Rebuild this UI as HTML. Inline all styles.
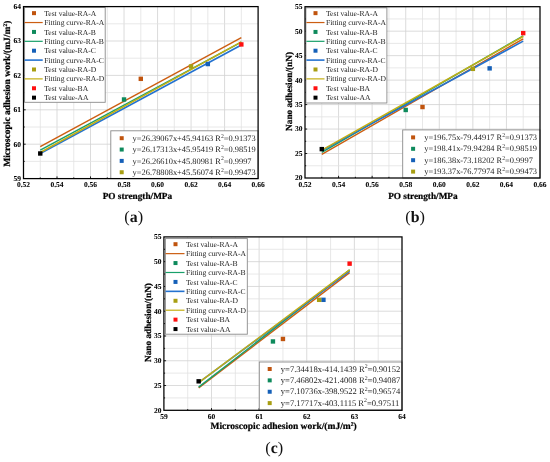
<!DOCTYPE html>
<html><head><meta charset="utf-8"><style>
html,body{margin:0;padding:0;background:#fff;}
svg{display:block;font-family:'Liberation Serif', 'Times New Roman', serif;text-rendering:geometricPrecision;filter:blur(0.35px);}
</style></head><body>
<svg width="550" height="462" viewBox="0 0 550 462">
<rect width="550" height="462" fill="#fff"/>
<line x1="40.26" y1="6.6" x2="40.26" y2="178.6" stroke="#e2e2e2" stroke-width="0.8"/>
<line x1="57.01" y1="6.6" x2="57.01" y2="178.6" stroke="#d2d2d2" stroke-width="0.8"/>
<line x1="73.77" y1="6.6" x2="73.77" y2="178.6" stroke="#e2e2e2" stroke-width="0.8"/>
<line x1="90.53" y1="6.6" x2="90.53" y2="178.6" stroke="#d2d2d2" stroke-width="0.8"/>
<line x1="107.29" y1="6.6" x2="107.29" y2="178.6" stroke="#e2e2e2" stroke-width="0.8"/>
<line x1="124.04" y1="6.6" x2="124.04" y2="178.6" stroke="#d2d2d2" stroke-width="0.8"/>
<line x1="140.8" y1="6.6" x2="140.8" y2="178.6" stroke="#e2e2e2" stroke-width="0.8"/>
<line x1="157.56" y1="6.6" x2="157.56" y2="178.6" stroke="#d2d2d2" stroke-width="0.8"/>
<line x1="174.31" y1="6.6" x2="174.31" y2="178.6" stroke="#e2e2e2" stroke-width="0.8"/>
<line x1="191.07" y1="6.6" x2="191.07" y2="178.6" stroke="#d2d2d2" stroke-width="0.8"/>
<line x1="207.83" y1="6.6" x2="207.83" y2="178.6" stroke="#e2e2e2" stroke-width="0.8"/>
<line x1="224.59" y1="6.6" x2="224.59" y2="178.6" stroke="#d2d2d2" stroke-width="0.8"/>
<line x1="241.34" y1="6.6" x2="241.34" y2="178.6" stroke="#e2e2e2" stroke-width="0.8"/>
<line x1="23.5" y1="161.4" x2="258.1" y2="161.4" stroke="#e2e2e2" stroke-width="0.8"/>
<line x1="23.5" y1="144.2" x2="258.1" y2="144.2" stroke="#d2d2d2" stroke-width="0.8"/>
<line x1="23.5" y1="127" x2="258.1" y2="127" stroke="#e2e2e2" stroke-width="0.8"/>
<line x1="23.5" y1="109.8" x2="258.1" y2="109.8" stroke="#d2d2d2" stroke-width="0.8"/>
<line x1="23.5" y1="92.6" x2="258.1" y2="92.6" stroke="#e2e2e2" stroke-width="0.8"/>
<line x1="23.5" y1="75.4" x2="258.1" y2="75.4" stroke="#d2d2d2" stroke-width="0.8"/>
<line x1="23.5" y1="58.2" x2="258.1" y2="58.2" stroke="#e2e2e2" stroke-width="0.8"/>
<line x1="23.5" y1="41" x2="258.1" y2="41" stroke="#d2d2d2" stroke-width="0.8"/>
<line x1="23.5" y1="23.8" x2="258.1" y2="23.8" stroke="#e2e2e2" stroke-width="0.8"/>
<line x1="40.26" y1="146.65" x2="241.34" y2="37.71" stroke="#CC5E12" stroke-width="1.45"/>
<line x1="40.26" y1="150.19" x2="241.34" y2="42.14" stroke="#18A06A" stroke-width="1.45"/>
<line x1="40.26" y1="153.46" x2="241.34" y2="45.03" stroke="#2472D0" stroke-width="1.6"/>
<line x1="40.26" y1="152.51" x2="241.34" y2="41.93" stroke="#C4AE12" stroke-width="1.45"/>
<rect x="138.6" y="76.64" width="4.4" height="4.4" fill="#C0540E"/>
<rect x="121.84" y="97.28" width="4.4" height="4.4" fill="#0E8A5C"/>
<rect x="205.63" y="61.85" width="4.4" height="4.4" fill="#1560B8"/>
<rect x="188.87" y="64.26" width="4.4" height="4.4" fill="#A89E12"/>
<rect x="239.14" y="42.24" width="4.4" height="4.4" fill="#FF1010"/>
<rect x="38.06" y="151.29" width="4.4" height="4.4" fill="#000000"/>
<line x1="40.26" y1="178.6" x2="40.26" y2="177.4" stroke="#1a1a1a" stroke-width="1"/>
<line x1="57.01" y1="178.6" x2="57.01" y2="176.4" stroke="#1a1a1a" stroke-width="1"/>
<line x1="73.77" y1="178.6" x2="73.77" y2="177.4" stroke="#1a1a1a" stroke-width="1"/>
<line x1="90.53" y1="178.6" x2="90.53" y2="176.4" stroke="#1a1a1a" stroke-width="1"/>
<line x1="107.29" y1="178.6" x2="107.29" y2="177.4" stroke="#1a1a1a" stroke-width="1"/>
<line x1="124.04" y1="178.6" x2="124.04" y2="176.4" stroke="#1a1a1a" stroke-width="1"/>
<line x1="140.8" y1="178.6" x2="140.8" y2="177.4" stroke="#1a1a1a" stroke-width="1"/>
<line x1="157.56" y1="178.6" x2="157.56" y2="176.4" stroke="#1a1a1a" stroke-width="1"/>
<line x1="174.31" y1="178.6" x2="174.31" y2="177.4" stroke="#1a1a1a" stroke-width="1"/>
<line x1="191.07" y1="178.6" x2="191.07" y2="176.4" stroke="#1a1a1a" stroke-width="1"/>
<line x1="207.83" y1="178.6" x2="207.83" y2="177.4" stroke="#1a1a1a" stroke-width="1"/>
<line x1="224.59" y1="178.6" x2="224.59" y2="176.4" stroke="#1a1a1a" stroke-width="1"/>
<line x1="241.34" y1="178.6" x2="241.34" y2="177.4" stroke="#1a1a1a" stroke-width="1"/>
<line x1="23.5" y1="161.4" x2="24.7" y2="161.4" stroke="#1a1a1a" stroke-width="1"/>
<line x1="23.5" y1="144.2" x2="25.7" y2="144.2" stroke="#1a1a1a" stroke-width="1"/>
<line x1="23.5" y1="127" x2="24.7" y2="127" stroke="#1a1a1a" stroke-width="1"/>
<line x1="23.5" y1="109.8" x2="25.7" y2="109.8" stroke="#1a1a1a" stroke-width="1"/>
<line x1="23.5" y1="92.6" x2="24.7" y2="92.6" stroke="#1a1a1a" stroke-width="1"/>
<line x1="23.5" y1="75.4" x2="25.7" y2="75.4" stroke="#1a1a1a" stroke-width="1"/>
<line x1="23.5" y1="58.2" x2="24.7" y2="58.2" stroke="#1a1a1a" stroke-width="1"/>
<line x1="23.5" y1="41" x2="25.7" y2="41" stroke="#1a1a1a" stroke-width="1"/>
<line x1="23.5" y1="23.8" x2="24.7" y2="23.8" stroke="#1a1a1a" stroke-width="1"/>
<rect x="24.6" y="7.5" width="80.6" height="94.8" fill="#fff" stroke="#8a8a8a" stroke-width="0.9"/>
<rect x="32" y="11.15" width="4" height="4" fill="#C0540E"/>
<text x="44.2" y="15.75" font-size="7.6" fill="#222">Test value-RA-A</text>
<line x1="24.5" y1="22.54" x2="42.7" y2="22.54" stroke="#CC5E12" stroke-width="1.2"/>
<text x="44.2" y="25.14" font-size="7.6" fill="#222">Fitting curve-RA-A</text>
<rect x="32" y="29.93" width="4" height="4" fill="#0E8A5C"/>
<text x="44.2" y="34.53" font-size="7.6" fill="#222">Test value-RA-B</text>
<line x1="24.5" y1="41.32" x2="42.7" y2="41.32" stroke="#18A06A" stroke-width="1.2"/>
<text x="44.2" y="43.92" font-size="7.6" fill="#222">Fitting curve-RA-B</text>
<rect x="32" y="48.71" width="4" height="4" fill="#1560B8"/>
<text x="44.2" y="53.31" font-size="7.6" fill="#222">Test value-RA-C</text>
<line x1="24.5" y1="60.1" x2="42.7" y2="60.1" stroke="#2472D0" stroke-width="1.6"/>
<text x="44.2" y="62.7" font-size="7.6" fill="#222">Fitting curve-RA-C</text>
<rect x="32" y="67.49" width="4" height="4" fill="#A89E12"/>
<text x="44.2" y="72.09" font-size="7.6" fill="#222">Test value-RA-D</text>
<line x1="24.5" y1="78.88" x2="42.7" y2="78.88" stroke="#C4AE12" stroke-width="1.2"/>
<text x="44.2" y="81.48" font-size="7.6" fill="#222">Fitting curve-RA-D</text>
<rect x="32" y="86.27" width="4" height="4" fill="#FF1010"/>
<text x="44.2" y="90.87" font-size="7.6" fill="#222">Test value-BA</text>
<rect x="32" y="95.66" width="4" height="4" fill="#000000"/>
<text x="44.2" y="100.26" font-size="7.6" fill="#222">Test value-AA</text>
<rect x="110.8" y="130.8" width="147.3" height="47.8" fill="#fff" stroke="#8a8a8a" stroke-width="0.9"/>
<rect x="119.7" y="136.2" width="4" height="4" fill="#C0540E"/>
<text x="132.6" y="140.8" font-size="8.38" fill="#222">y=26.39067x+45.94163 R<tspan font-size="5.70" dy="-3.3">2</tspan><tspan dy="3.3">=0.91373</tspan></text>
<rect x="119.7" y="147.55" width="4" height="4" fill="#0E8A5C"/>
<text x="132.6" y="152.15" font-size="8.38" fill="#222">y=26.17313x+45.95419 R<tspan font-size="5.70" dy="-3.3">2</tspan><tspan dy="3.3">=0.98519</tspan></text>
<rect x="119.7" y="158.9" width="4" height="4" fill="#1560B8"/>
<text x="132.6" y="163.5" font-size="8.38" fill="#222">y=26.26610x+45.80981 R<tspan font-size="5.70" dy="-3.3">2</tspan><tspan dy="3.3">=0.9997</tspan></text>
<rect x="119.7" y="170.25" width="4" height="4" fill="#A89E12"/>
<text x="132.6" y="174.85" font-size="8.38" fill="#222">y=26.78808x+45.56074 R<tspan font-size="5.70" dy="-3.3">2</tspan><tspan dy="3.3">=0.99473</tspan></text>
<rect x="23.5" y="6.6" width="234.6" height="172" fill="none" stroke="#000" stroke-width="1.25"/>
<text x="23.5" y="187.2" font-size="7.5" font-weight="bold" text-anchor="middle" fill="#000" stroke="#000" stroke-width="0.06">0.52</text>
<text x="57.01" y="187.2" font-size="7.5" font-weight="bold" text-anchor="middle" fill="#000" stroke="#000" stroke-width="0.06">0.54</text>
<text x="90.53" y="187.2" font-size="7.5" font-weight="bold" text-anchor="middle" fill="#000" stroke="#000" stroke-width="0.06">0.56</text>
<text x="124.04" y="187.2" font-size="7.5" font-weight="bold" text-anchor="middle" fill="#000" stroke="#000" stroke-width="0.06">0.58</text>
<text x="157.56" y="187.2" font-size="7.5" font-weight="bold" text-anchor="middle" fill="#000" stroke="#000" stroke-width="0.06">0.60</text>
<text x="191.07" y="187.2" font-size="7.5" font-weight="bold" text-anchor="middle" fill="#000" stroke="#000" stroke-width="0.06">0.62</text>
<text x="224.59" y="187.2" font-size="7.5" font-weight="bold" text-anchor="middle" fill="#000" stroke="#000" stroke-width="0.06">0.64</text>
<text x="258.1" y="187.2" font-size="7.5" font-weight="bold" text-anchor="middle" fill="#000" stroke="#000" stroke-width="0.06">0.66</text>
<text x="21" y="181" font-size="7.5" font-weight="bold" text-anchor="end" fill="#000" stroke="#000" stroke-width="0.06">59</text>
<text x="21" y="146.6" font-size="7.5" font-weight="bold" text-anchor="end" fill="#000" stroke="#000" stroke-width="0.06">60</text>
<text x="21" y="112.2" font-size="7.5" font-weight="bold" text-anchor="end" fill="#000" stroke="#000" stroke-width="0.06">61</text>
<text x="21" y="77.8" font-size="7.5" font-weight="bold" text-anchor="end" fill="#000" stroke="#000" stroke-width="0.06">62</text>
<text x="21" y="43.4" font-size="7.5" font-weight="bold" text-anchor="end" fill="#000" stroke="#000" stroke-width="0.06">63</text>
<text x="21" y="9" font-size="7.5" font-weight="bold" text-anchor="end" fill="#000" stroke="#000" stroke-width="0.06">64</text>
<text x="102.7" y="199.2" font-size="9.25" font-weight="bold" fill="#000" stroke="#000" stroke-width="0.22">PO strength/MPa</text>
<text transform="translate(9.7,166.8) rotate(-90)" font-size="9.5" font-weight="bold" fill="#000" stroke="#000" stroke-width="0.22">Microscopic adhesion work/(mJ/m<tspan font-size="5.5" dy="-3.2">2</tspan><tspan dy="3.2">)</tspan></text>
<text x="124.3" y="222.4" font-size="16.3" fill="#111">(<tspan font-weight="bold" font-size="15.8">a</tspan>)</text>
<line x1="321.79" y1="6.7" x2="321.79" y2="178" stroke="#e2e2e2" stroke-width="0.8"/>
<line x1="338.57" y1="6.7" x2="338.57" y2="178" stroke="#d2d2d2" stroke-width="0.8"/>
<line x1="355.36" y1="6.7" x2="355.36" y2="178" stroke="#e2e2e2" stroke-width="0.8"/>
<line x1="372.14" y1="6.7" x2="372.14" y2="178" stroke="#d2d2d2" stroke-width="0.8"/>
<line x1="388.93" y1="6.7" x2="388.93" y2="178" stroke="#e2e2e2" stroke-width="0.8"/>
<line x1="405.71" y1="6.7" x2="405.71" y2="178" stroke="#d2d2d2" stroke-width="0.8"/>
<line x1="422.5" y1="6.7" x2="422.5" y2="178" stroke="#e2e2e2" stroke-width="0.8"/>
<line x1="439.29" y1="6.7" x2="439.29" y2="178" stroke="#d2d2d2" stroke-width="0.8"/>
<line x1="456.07" y1="6.7" x2="456.07" y2="178" stroke="#e2e2e2" stroke-width="0.8"/>
<line x1="472.86" y1="6.7" x2="472.86" y2="178" stroke="#d2d2d2" stroke-width="0.8"/>
<line x1="489.64" y1="6.7" x2="489.64" y2="178" stroke="#e2e2e2" stroke-width="0.8"/>
<line x1="506.43" y1="6.7" x2="506.43" y2="178" stroke="#d2d2d2" stroke-width="0.8"/>
<line x1="523.21" y1="6.7" x2="523.21" y2="178" stroke="#e2e2e2" stroke-width="0.8"/>
<line x1="305" y1="165.76" x2="540" y2="165.76" stroke="#e2e2e2" stroke-width="0.8"/>
<line x1="305" y1="153.53" x2="540" y2="153.53" stroke="#d2d2d2" stroke-width="0.8"/>
<line x1="305" y1="141.29" x2="540" y2="141.29" stroke="#e2e2e2" stroke-width="0.8"/>
<line x1="305" y1="129.06" x2="540" y2="129.06" stroke="#d2d2d2" stroke-width="0.8"/>
<line x1="305" y1="116.82" x2="540" y2="116.82" stroke="#e2e2e2" stroke-width="0.8"/>
<line x1="305" y1="104.59" x2="540" y2="104.59" stroke="#d2d2d2" stroke-width="0.8"/>
<line x1="305" y1="92.35" x2="540" y2="92.35" stroke="#e2e2e2" stroke-width="0.8"/>
<line x1="305" y1="80.11" x2="540" y2="80.11" stroke="#d2d2d2" stroke-width="0.8"/>
<line x1="305" y1="67.88" x2="540" y2="67.88" stroke="#e2e2e2" stroke-width="0.8"/>
<line x1="305" y1="55.64" x2="540" y2="55.64" stroke="#d2d2d2" stroke-width="0.8"/>
<line x1="305" y1="43.41" x2="540" y2="43.41" stroke="#e2e2e2" stroke-width="0.8"/>
<line x1="305" y1="31.17" x2="540" y2="31.17" stroke="#d2d2d2" stroke-width="0.8"/>
<line x1="305" y1="18.94" x2="540" y2="18.94" stroke="#e2e2e2" stroke-width="0.8"/>
<line x1="321.79" y1="154.37" x2="523.21" y2="38.81" stroke="#CC5E12" stroke-width="1.45"/>
<line x1="321.79" y1="152.48" x2="523.21" y2="35.95" stroke="#18A06A" stroke-width="1.45"/>
<line x1="321.79" y1="150.6" x2="523.21" y2="41.13" stroke="#2472D0" stroke-width="1.6"/>
<line x1="321.79" y1="150.07" x2="523.21" y2="36.5" stroke="#C4AE12" stroke-width="1.45"/>
<rect x="420.3" y="104.83" width="4.4" height="4.4" fill="#C0540E"/>
<rect x="403.51" y="107.77" width="4.4" height="4.4" fill="#0E8A5C"/>
<rect x="487.44" y="66.17" width="4.4" height="4.4" fill="#1560B8"/>
<rect x="470.66" y="66.66" width="4.4" height="4.4" fill="#A89E12"/>
<rect x="521.01" y="30.93" width="4.4" height="4.4" fill="#FF1010"/>
<rect x="319.59" y="146.92" width="4.4" height="4.4" fill="#000000"/>
<line x1="321.79" y1="178" x2="321.79" y2="176.8" stroke="#1a1a1a" stroke-width="1"/>
<line x1="338.57" y1="178" x2="338.57" y2="175.8" stroke="#1a1a1a" stroke-width="1"/>
<line x1="355.36" y1="178" x2="355.36" y2="176.8" stroke="#1a1a1a" stroke-width="1"/>
<line x1="372.14" y1="178" x2="372.14" y2="175.8" stroke="#1a1a1a" stroke-width="1"/>
<line x1="388.93" y1="178" x2="388.93" y2="176.8" stroke="#1a1a1a" stroke-width="1"/>
<line x1="405.71" y1="178" x2="405.71" y2="175.8" stroke="#1a1a1a" stroke-width="1"/>
<line x1="422.5" y1="178" x2="422.5" y2="176.8" stroke="#1a1a1a" stroke-width="1"/>
<line x1="439.29" y1="178" x2="439.29" y2="175.8" stroke="#1a1a1a" stroke-width="1"/>
<line x1="456.07" y1="178" x2="456.07" y2="176.8" stroke="#1a1a1a" stroke-width="1"/>
<line x1="472.86" y1="178" x2="472.86" y2="175.8" stroke="#1a1a1a" stroke-width="1"/>
<line x1="489.64" y1="178" x2="489.64" y2="176.8" stroke="#1a1a1a" stroke-width="1"/>
<line x1="506.43" y1="178" x2="506.43" y2="175.8" stroke="#1a1a1a" stroke-width="1"/>
<line x1="523.21" y1="178" x2="523.21" y2="176.8" stroke="#1a1a1a" stroke-width="1"/>
<line x1="305" y1="165.76" x2="306.2" y2="165.76" stroke="#1a1a1a" stroke-width="1"/>
<line x1="305" y1="153.53" x2="307.2" y2="153.53" stroke="#1a1a1a" stroke-width="1"/>
<line x1="305" y1="141.29" x2="306.2" y2="141.29" stroke="#1a1a1a" stroke-width="1"/>
<line x1="305" y1="129.06" x2="307.2" y2="129.06" stroke="#1a1a1a" stroke-width="1"/>
<line x1="305" y1="116.82" x2="306.2" y2="116.82" stroke="#1a1a1a" stroke-width="1"/>
<line x1="305" y1="104.59" x2="307.2" y2="104.59" stroke="#1a1a1a" stroke-width="1"/>
<line x1="305" y1="92.35" x2="306.2" y2="92.35" stroke="#1a1a1a" stroke-width="1"/>
<line x1="305" y1="80.11" x2="307.2" y2="80.11" stroke="#1a1a1a" stroke-width="1"/>
<line x1="305" y1="67.88" x2="306.2" y2="67.88" stroke="#1a1a1a" stroke-width="1"/>
<line x1="305" y1="55.64" x2="307.2" y2="55.64" stroke="#1a1a1a" stroke-width="1"/>
<line x1="305" y1="43.41" x2="306.2" y2="43.41" stroke="#1a1a1a" stroke-width="1"/>
<line x1="305" y1="31.17" x2="307.2" y2="31.17" stroke="#1a1a1a" stroke-width="1"/>
<line x1="305" y1="18.94" x2="306.2" y2="18.94" stroke="#1a1a1a" stroke-width="1"/>
<rect x="305.9" y="7.8" width="81" height="95.2" fill="#fff" stroke="#8a8a8a" stroke-width="0.9"/>
<rect x="313.5" y="11.15" width="4" height="4" fill="#C0540E"/>
<text x="326" y="15.75" font-size="7.6" fill="#222">Test value-RA-A</text>
<line x1="306.4" y1="22.54" x2="324.5" y2="22.54" stroke="#CC5E12" stroke-width="1.2"/>
<text x="326" y="25.14" font-size="7.6" fill="#222">Fitting curve-RA-A</text>
<rect x="313.5" y="29.93" width="4" height="4" fill="#0E8A5C"/>
<text x="326" y="34.53" font-size="7.6" fill="#222">Test value-RA-B</text>
<line x1="306.4" y1="41.32" x2="324.5" y2="41.32" stroke="#18A06A" stroke-width="1.2"/>
<text x="326" y="43.92" font-size="7.6" fill="#222">Fitting curve-RA-B</text>
<rect x="313.5" y="48.71" width="4" height="4" fill="#1560B8"/>
<text x="326" y="53.31" font-size="7.6" fill="#222">Test value-RA-C</text>
<line x1="306.4" y1="60.1" x2="324.5" y2="60.1" stroke="#2472D0" stroke-width="1.6"/>
<text x="326" y="62.7" font-size="7.6" fill="#222">Fitting curve-RA-C</text>
<rect x="313.5" y="67.49" width="4" height="4" fill="#A89E12"/>
<text x="326" y="72.09" font-size="7.6" fill="#222">Test value-RA-D</text>
<line x1="306.4" y1="78.88" x2="324.5" y2="78.88" stroke="#C4AE12" stroke-width="1.2"/>
<text x="326" y="81.48" font-size="7.6" fill="#222">Fitting curve-RA-D</text>
<rect x="313.5" y="86.27" width="4" height="4" fill="#FF1010"/>
<text x="326" y="90.87" font-size="7.6" fill="#222">Test value-BA</text>
<rect x="313.5" y="95.66" width="4" height="4" fill="#000000"/>
<text x="326" y="100.26" font-size="7.6" fill="#222">Test value-AA</text>
<rect x="402.7" y="129.9" width="137.3" height="48.1" fill="#fff" stroke="#8a8a8a" stroke-width="0.9"/>
<rect x="411.1" y="135.4" width="4" height="4" fill="#C0540E"/>
<text x="424.2" y="140" font-size="8.4" fill="#222">y=196.75x-79.44917 R<tspan font-size="5.71" dy="-3.3">2</tspan><tspan dy="3.3">=0.91373</tspan></text>
<rect x="411.1" y="146.8" width="4" height="4" fill="#0E8A5C"/>
<text x="424.2" y="151.4" font-size="8.4" fill="#222">y=198.41x-79.94284 R<tspan font-size="5.71" dy="-3.3">2</tspan><tspan dy="3.3">=0.98519</tspan></text>
<rect x="411.1" y="158.2" width="4" height="4" fill="#1560B8"/>
<text x="424.2" y="162.8" font-size="8.4" fill="#222">y=186.38x-73.18202 R<tspan font-size="5.71" dy="-3.3">2</tspan><tspan dy="3.3">=0.9997</tspan></text>
<rect x="411.1" y="169.6" width="4" height="4" fill="#A89E12"/>
<text x="424.2" y="174.2" font-size="8.4" fill="#222">y=193.37x-76.77974 R<tspan font-size="5.71" dy="-3.3">2</tspan><tspan dy="3.3">=0.99473</tspan></text>
<rect x="305" y="6.7" width="235" height="171.3" fill="none" stroke="#000" stroke-width="1.25"/>
<text x="305" y="186.6" font-size="7.5" font-weight="bold" text-anchor="middle" fill="#000" stroke="#000" stroke-width="0.06">0.52</text>
<text x="338.57" y="186.6" font-size="7.5" font-weight="bold" text-anchor="middle" fill="#000" stroke="#000" stroke-width="0.06">0.54</text>
<text x="372.14" y="186.6" font-size="7.5" font-weight="bold" text-anchor="middle" fill="#000" stroke="#000" stroke-width="0.06">0.56</text>
<text x="405.71" y="186.6" font-size="7.5" font-weight="bold" text-anchor="middle" fill="#000" stroke="#000" stroke-width="0.06">0.58</text>
<text x="439.29" y="186.6" font-size="7.5" font-weight="bold" text-anchor="middle" fill="#000" stroke="#000" stroke-width="0.06">0.60</text>
<text x="472.86" y="186.6" font-size="7.5" font-weight="bold" text-anchor="middle" fill="#000" stroke="#000" stroke-width="0.06">0.62</text>
<text x="506.43" y="186.6" font-size="7.5" font-weight="bold" text-anchor="middle" fill="#000" stroke="#000" stroke-width="0.06">0.64</text>
<text x="540" y="186.6" font-size="7.5" font-weight="bold" text-anchor="middle" fill="#000" stroke="#000" stroke-width="0.06">0.66</text>
<text x="302.5" y="180.4" font-size="7.5" font-weight="bold" text-anchor="end" fill="#000" stroke="#000" stroke-width="0.06">20</text>
<text x="302.5" y="155.93" font-size="7.5" font-weight="bold" text-anchor="end" fill="#000" stroke="#000" stroke-width="0.06">25</text>
<text x="302.5" y="131.46" font-size="7.5" font-weight="bold" text-anchor="end" fill="#000" stroke="#000" stroke-width="0.06">30</text>
<text x="302.5" y="106.99" font-size="7.5" font-weight="bold" text-anchor="end" fill="#000" stroke="#000" stroke-width="0.06">35</text>
<text x="302.5" y="82.51" font-size="7.5" font-weight="bold" text-anchor="end" fill="#000" stroke="#000" stroke-width="0.06">40</text>
<text x="302.5" y="58.04" font-size="7.5" font-weight="bold" text-anchor="end" fill="#000" stroke="#000" stroke-width="0.06">45</text>
<text x="302.5" y="33.57" font-size="7.5" font-weight="bold" text-anchor="end" fill="#000" stroke="#000" stroke-width="0.06">50</text>
<text x="302.5" y="9.1" font-size="7.5" font-weight="bold" text-anchor="end" fill="#000" stroke="#000" stroke-width="0.06">55</text>
<text x="388.2" y="198.6" font-size="9.25" font-weight="bold" fill="#000" stroke="#000" stroke-width="0.22">PO strength/MPa</text>
<text transform="translate(291.8,130.9) rotate(-90)" font-size="9.25" font-weight="bold" fill="#000" stroke="#000" stroke-width="0.22">Nano adhesion/(nN)</text>
<text x="405.3" y="222.2" font-size="16.3" fill="#111">(<tspan font-weight="bold" font-size="15.8">b</tspan>)</text>
<line x1="187.71" y1="236.9" x2="187.71" y2="410.3" stroke="#e2e2e2" stroke-width="0.8"/>
<line x1="211.52" y1="236.9" x2="211.52" y2="410.3" stroke="#d2d2d2" stroke-width="0.8"/>
<line x1="235.33" y1="236.9" x2="235.33" y2="410.3" stroke="#e2e2e2" stroke-width="0.8"/>
<line x1="259.14" y1="236.9" x2="259.14" y2="410.3" stroke="#d2d2d2" stroke-width="0.8"/>
<line x1="282.95" y1="236.9" x2="282.95" y2="410.3" stroke="#e2e2e2" stroke-width="0.8"/>
<line x1="306.76" y1="236.9" x2="306.76" y2="410.3" stroke="#d2d2d2" stroke-width="0.8"/>
<line x1="330.57" y1="236.9" x2="330.57" y2="410.3" stroke="#e2e2e2" stroke-width="0.8"/>
<line x1="354.38" y1="236.9" x2="354.38" y2="410.3" stroke="#d2d2d2" stroke-width="0.8"/>
<line x1="378.19" y1="236.9" x2="378.19" y2="410.3" stroke="#e2e2e2" stroke-width="0.8"/>
<line x1="163.9" y1="397.91" x2="402" y2="397.91" stroke="#e2e2e2" stroke-width="0.8"/>
<line x1="163.9" y1="385.53" x2="402" y2="385.53" stroke="#d2d2d2" stroke-width="0.8"/>
<line x1="163.9" y1="373.14" x2="402" y2="373.14" stroke="#e2e2e2" stroke-width="0.8"/>
<line x1="163.9" y1="360.76" x2="402" y2="360.76" stroke="#d2d2d2" stroke-width="0.8"/>
<line x1="163.9" y1="348.37" x2="402" y2="348.37" stroke="#e2e2e2" stroke-width="0.8"/>
<line x1="163.9" y1="335.99" x2="402" y2="335.99" stroke="#d2d2d2" stroke-width="0.8"/>
<line x1="163.9" y1="323.6" x2="402" y2="323.6" stroke="#e2e2e2" stroke-width="0.8"/>
<line x1="163.9" y1="311.21" x2="402" y2="311.21" stroke="#d2d2d2" stroke-width="0.8"/>
<line x1="163.9" y1="298.83" x2="402" y2="298.83" stroke="#e2e2e2" stroke-width="0.8"/>
<line x1="163.9" y1="286.44" x2="402" y2="286.44" stroke="#d2d2d2" stroke-width="0.8"/>
<line x1="163.9" y1="274.06" x2="402" y2="274.06" stroke="#e2e2e2" stroke-width="0.8"/>
<line x1="163.9" y1="261.67" x2="402" y2="261.67" stroke="#d2d2d2" stroke-width="0.8"/>
<line x1="163.9" y1="249.29" x2="402" y2="249.29" stroke="#e2e2e2" stroke-width="0.8"/>
<line x1="198.66" y1="387.89" x2="349.62" y2="272.55" stroke="#CC5E12" stroke-width="1.45"/>
<line x1="198.66" y1="387.19" x2="349.62" y2="269.91" stroke="#18A06A" stroke-width="1.45"/>
<line x1="198.66" y1="382.7" x2="349.62" y2="271.08" stroke="#2472D0" stroke-width="1.6"/>
<line x1="198.66" y1="382.65" x2="349.62" y2="269.93" stroke="#C4AE12" stroke-width="1.45"/>
<rect x="280.75" y="336.76" width="4.4" height="4.4" fill="#C0540E"/>
<rect x="270.75" y="339.24" width="4.4" height="4.4" fill="#0E8A5C"/>
<rect x="321.23" y="297.62" width="4.4" height="4.4" fill="#1560B8"/>
<rect x="316.94" y="297.62" width="4.4" height="4.4" fill="#A89E12"/>
<rect x="347.42" y="261.45" width="4.4" height="4.4" fill="#FF1010"/>
<rect x="196.46" y="379.12" width="4.4" height="4.4" fill="#000000"/>
<line x1="187.71" y1="410.3" x2="187.71" y2="409.1" stroke="#1a1a1a" stroke-width="1"/>
<line x1="211.52" y1="410.3" x2="211.52" y2="408.1" stroke="#1a1a1a" stroke-width="1"/>
<line x1="235.33" y1="410.3" x2="235.33" y2="409.1" stroke="#1a1a1a" stroke-width="1"/>
<line x1="259.14" y1="410.3" x2="259.14" y2="408.1" stroke="#1a1a1a" stroke-width="1"/>
<line x1="282.95" y1="410.3" x2="282.95" y2="409.1" stroke="#1a1a1a" stroke-width="1"/>
<line x1="306.76" y1="410.3" x2="306.76" y2="408.1" stroke="#1a1a1a" stroke-width="1"/>
<line x1="330.57" y1="410.3" x2="330.57" y2="409.1" stroke="#1a1a1a" stroke-width="1"/>
<line x1="354.38" y1="410.3" x2="354.38" y2="408.1" stroke="#1a1a1a" stroke-width="1"/>
<line x1="378.19" y1="410.3" x2="378.19" y2="409.1" stroke="#1a1a1a" stroke-width="1"/>
<line x1="163.9" y1="397.91" x2="165.1" y2="397.91" stroke="#1a1a1a" stroke-width="1"/>
<line x1="163.9" y1="385.53" x2="166.1" y2="385.53" stroke="#1a1a1a" stroke-width="1"/>
<line x1="163.9" y1="373.14" x2="165.1" y2="373.14" stroke="#1a1a1a" stroke-width="1"/>
<line x1="163.9" y1="360.76" x2="166.1" y2="360.76" stroke="#1a1a1a" stroke-width="1"/>
<line x1="163.9" y1="348.37" x2="165.1" y2="348.37" stroke="#1a1a1a" stroke-width="1"/>
<line x1="163.9" y1="335.99" x2="166.1" y2="335.99" stroke="#1a1a1a" stroke-width="1"/>
<line x1="163.9" y1="323.6" x2="165.1" y2="323.6" stroke="#1a1a1a" stroke-width="1"/>
<line x1="163.9" y1="311.21" x2="166.1" y2="311.21" stroke="#1a1a1a" stroke-width="1"/>
<line x1="163.9" y1="298.83" x2="165.1" y2="298.83" stroke="#1a1a1a" stroke-width="1"/>
<line x1="163.9" y1="286.44" x2="166.1" y2="286.44" stroke="#1a1a1a" stroke-width="1"/>
<line x1="163.9" y1="274.06" x2="165.1" y2="274.06" stroke="#1a1a1a" stroke-width="1"/>
<line x1="163.9" y1="261.67" x2="166.1" y2="261.67" stroke="#1a1a1a" stroke-width="1"/>
<line x1="163.9" y1="249.29" x2="165.1" y2="249.29" stroke="#1a1a1a" stroke-width="1"/>
<rect x="165.4" y="238.6" width="81.9" height="95.6" fill="#fff" stroke="#8a8a8a" stroke-width="0.9"/>
<rect x="173.5" y="242.2" width="4" height="4" fill="#C0540E"/>
<text x="186" y="246.8" font-size="7.6" fill="#222">Test value-RA-A</text>
<line x1="165.5" y1="253.63" x2="184.5" y2="253.63" stroke="#CC5E12" stroke-width="1.2"/>
<text x="186" y="256.23" font-size="7.6" fill="#222">Fitting curve-RA-A</text>
<rect x="173.5" y="261.06" width="4" height="4" fill="#0E8A5C"/>
<text x="186" y="265.66" font-size="7.6" fill="#222">Test value-RA-B</text>
<line x1="165.5" y1="272.49" x2="184.5" y2="272.49" stroke="#18A06A" stroke-width="1.2"/>
<text x="186" y="275.09" font-size="7.6" fill="#222">Fitting curve-RA-B</text>
<rect x="173.5" y="279.92" width="4" height="4" fill="#1560B8"/>
<text x="186" y="284.52" font-size="7.6" fill="#222">Test value-RA-C</text>
<line x1="165.5" y1="291.35" x2="184.5" y2="291.35" stroke="#2472D0" stroke-width="1.6"/>
<text x="186" y="293.95" font-size="7.6" fill="#222">Fitting curve-RA-C</text>
<rect x="173.5" y="298.78" width="4" height="4" fill="#A89E12"/>
<text x="186" y="303.38" font-size="7.6" fill="#222">Test value-RA-D</text>
<line x1="165.5" y1="310.21" x2="184.5" y2="310.21" stroke="#C4AE12" stroke-width="1.2"/>
<text x="186" y="312.81" font-size="7.6" fill="#222">Fitting curve-RA-D</text>
<rect x="173.5" y="317.64" width="4" height="4" fill="#FF1010"/>
<text x="186" y="322.24" font-size="7.6" fill="#222">Test value-BA</text>
<rect x="173.5" y="327.07" width="4" height="4" fill="#000000"/>
<text x="186" y="331.67" font-size="7.6" fill="#222">Test value-AA</text>
<rect x="259.3" y="362" width="142.7" height="48" fill="#fff" stroke="#8a8a8a" stroke-width="0.9"/>
<rect x="267.7" y="367" width="4" height="4" fill="#C0540E"/>
<text x="280.8" y="371.6" font-size="8.55" fill="#222">y=7.34418x-414.1439 R<tspan font-size="5.81" dy="-3.3">2</tspan><tspan dy="3.3">=0.90152</tspan></text>
<rect x="267.7" y="378.37" width="4" height="4" fill="#0E8A5C"/>
<text x="280.8" y="382.97" font-size="8.55" fill="#222">y=7.46802x-421.4008 R<tspan font-size="5.81" dy="-3.3">2</tspan><tspan dy="3.3">=0.94087</tspan></text>
<rect x="267.7" y="389.74" width="4" height="4" fill="#1560B8"/>
<text x="280.8" y="394.34" font-size="8.55" fill="#222">y=7.10736x-398.9522 R<tspan font-size="5.81" dy="-3.3">2</tspan><tspan dy="3.3">=0.96574</tspan></text>
<rect x="267.7" y="401.11" width="4" height="4" fill="#A89E12"/>
<text x="280.8" y="405.71" font-size="8.55" fill="#222">y=7.17717x-403.1115 R<tspan font-size="5.81" dy="-3.3">2</tspan><tspan dy="3.3">=0.97511</tspan></text>
<rect x="163.9" y="236.9" width="238.1" height="173.4" fill="none" stroke="#000" stroke-width="1.25"/>
<text x="163.9" y="418.9" font-size="7.5" font-weight="bold" text-anchor="middle" fill="#000" stroke="#000" stroke-width="0.06">59</text>
<text x="211.52" y="418.9" font-size="7.5" font-weight="bold" text-anchor="middle" fill="#000" stroke="#000" stroke-width="0.06">60</text>
<text x="259.14" y="418.9" font-size="7.5" font-weight="bold" text-anchor="middle" fill="#000" stroke="#000" stroke-width="0.06">61</text>
<text x="306.76" y="418.9" font-size="7.5" font-weight="bold" text-anchor="middle" fill="#000" stroke="#000" stroke-width="0.06">62</text>
<text x="354.38" y="418.9" font-size="7.5" font-weight="bold" text-anchor="middle" fill="#000" stroke="#000" stroke-width="0.06">63</text>
<text x="402" y="418.9" font-size="7.5" font-weight="bold" text-anchor="middle" fill="#000" stroke="#000" stroke-width="0.06">64</text>
<text x="161.4" y="412.7" font-size="7.5" font-weight="bold" text-anchor="end" fill="#000" stroke="#000" stroke-width="0.06">20</text>
<text x="161.4" y="387.93" font-size="7.5" font-weight="bold" text-anchor="end" fill="#000" stroke="#000" stroke-width="0.06">25</text>
<text x="161.4" y="363.16" font-size="7.5" font-weight="bold" text-anchor="end" fill="#000" stroke="#000" stroke-width="0.06">30</text>
<text x="161.4" y="338.39" font-size="7.5" font-weight="bold" text-anchor="end" fill="#000" stroke="#000" stroke-width="0.06">35</text>
<text x="161.4" y="313.61" font-size="7.5" font-weight="bold" text-anchor="end" fill="#000" stroke="#000" stroke-width="0.06">40</text>
<text x="161.4" y="288.84" font-size="7.5" font-weight="bold" text-anchor="end" fill="#000" stroke="#000" stroke-width="0.06">45</text>
<text x="161.4" y="264.07" font-size="7.5" font-weight="bold" text-anchor="end" fill="#000" stroke="#000" stroke-width="0.06">50</text>
<text x="161.4" y="239.3" font-size="7.5" font-weight="bold" text-anchor="end" fill="#000" stroke="#000" stroke-width="0.06">55</text>
<text x="210.5" y="429.2" font-size="9.5" font-weight="bold" fill="#000" stroke="#000" stroke-width="0.22">Microscopic adhesion work/(mJ/m<tspan font-size="5.5" dy="-3.2">2</tspan><tspan dy="3.2">)</tspan></text>
<text transform="translate(151.2,362) rotate(-90)" font-size="9.25" font-weight="bold" fill="#000" stroke="#000" stroke-width="0.22">Nano adhesion/(nN)</text>
<text x="265.3" y="453.4" font-size="16.3" fill="#111">(<tspan font-weight="bold" font-size="15.8">c</tspan>)</text>
</svg>
</body></html>
